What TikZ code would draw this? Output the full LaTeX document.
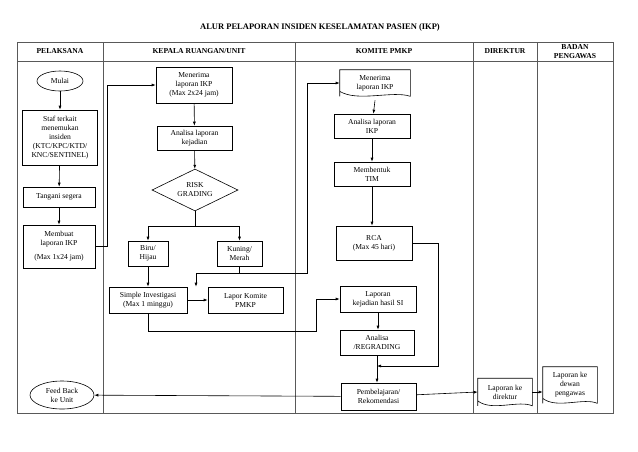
\documentclass[tikz,border=0pt]{standalone}
\usepackage{fontspec}
\setmainfont{Liberation Serif}
\usetikzlibrary{shapes.geometric,arrows.meta,calc}
\newcommand{\docshp}[1]{\draw[semithick] (#1.south west) -- (#1.north west) -- (#1.north east) -- (#1.south east) .. controls ($(#1.south east)!0.5!(#1.south)+(0,-6)$) and ($(#1.south)!0.5!(#1.south west)+(0,6)$) .. ($(#1.south west)+(0,-5)$) -- (#1.south west);}
\begin{document}
\begin{tikzpicture}[x=1pt,y=-1pt, semithick,
  every node/.style={font=\fontsize{7.6}{9}\selectfont, align=center, inner sep=1pt},
  box/.style={draw, minimum width=#1, minimum height=24},
  hd/.style={font=\fontsize{7.6}{8.5}\selectfont\bfseries},
  ar/.style={-{Latex[length=4pt,width=3pt]}}]
\useasboundingbox (0,0) rectangle (638,451);
% table
\draw[gray!70!black] (17,42) rectangle (613,413);
\draw[gray!70!black] (17,61) -- (613,61);
\foreach \x in {103,295,473,537} \draw[gray!70!black] (\x,42) -- (\x,413);
\node[font=\fontsize{8.5}{10}\selectfont\bfseries] (title) at (320,27) {ALUR PELAPORAN INSIDEN KESELAMATAN PASIEN (IKP)};
\node[hd] (h1) at (60,51.5) {PELAKSANA};
\node[hd] (h2) at (199,51.5) {KEPALA RUANGAN/UNIT};
\node[hd] (h3) at (384,51.5) {KOMITE PMKP};
\node[hd] (h4) at (505,51.5) {DIREKTUR};
\node[hd] (h5) at (575,51.5) {BADAN\\PENGAWAS};
% pelaksana
\node[draw,ellipse,minimum width=46,minimum height=20] (mulai) at (60,81) {Mulai};
\node[box=75, minimum height=55] (staf) at (60,137.5) {Staf terkait\\menemukan\\insiden\\(KTC/KPC/KTD/\\KNC/SENTINEL)};
\node[box=72, minimum height=20] (tangani) at (59,197) {Tangani segera};
\node[box=72, minimum height=43] (buat) at (59,246.5) {Membuat\\laporan IKP\\[5pt](Max 1x24 jam)};
\node[draw,ellipse,minimum width=64,minimum height=28] (feed) at (62,395) {Feed Back\\ke Unit};
% kepala ruangan
\node[box=76, minimum height=36] (terima1) at (194,85) {Menerima\\laporan IKP\\(Max 2x24 jam)};
\node[box=75] (analisa1) at (194.5,138) {Analisa laporan\\kejadian};
\node[draw,diamond,aspect=2.05,minimum width=86,minimum height=42,inner sep=0] (risk) at (195,190) {RISK\\GRADING};
\node[box=40, minimum height=25] (biru) at (148,253.5) {Biru/\\Hijau};
\node[box=45, minimum height=25] (kuning) at (239.5,253.5) {Kuning/\\Merah};
\node[box=78, minimum height=26] (simple) at (148,300) {Simple Investigasi\\(Max 1 minggu)};
\node[box=75, minimum height=26] (lapor) at (245.5,300) {Lapor Komite\\PMKP};
% komite
\node[minimum width=70, minimum height=26] (terima2) at (375,83) {Menerima\\laporan IKP};
\docshp{terima2}
\node[box=76] (analisa2) at (372,126) {Analisa laporan\\IKP};
\node[box=76] (tim) at (372,174) {Membentuk\\TIM};
\node[box=76, minimum height=34] (rca) at (374,243) {RCA\\(Max 45 hari)};
\node[box=76, minimum height=26] (si) at (378,299) {Laporan\\kejadian hasil SI};
\node[box=74, minimum height=25] (regr) at (377,342.5) {Analisa\\/REGRADING};
\node[box=75, minimum height=27] (pemb) at (378.5,396.5) {Pembelajaran/\\Rekomendasi};
% direktur / badan
\node[minimum width=54, minimum height=27] (dir) at (505,392) {Laporan ke\\direktur};
\docshp{dir}
\node[minimum width=54, minimum height=36] (dewan) at (570,385) {Laporan ke\\dewan\\pengawas};
\docshp{dewan}
% connectors
\coordinate (c1) at (107,246.5);
\coordinate (rj) at (195,226);
\coordinate (kj) at (239.5,273);
\coordinate (kl) at (196,273);
\coordinate (kr) at (307,273);
\coordinate (s1) at (148,331);
\coordinate (s2) at (316,331);
\coordinate (r1) at (438,243);
\coordinate (r2) at (438,366);
\coordinate (r3) at (377,366);
\draw[ar] (mulai) -- (staf);
\draw[ar] (staf) -- (tangani);
\draw[ar] (tangani) -- (buat);
\draw[ar] (buat.east) -- (c1) |- (terima1.west);
\draw[ar] (terima1) -- (analisa1);
\draw[ar] (analisa1) -- (risk);
\draw (risk.south) -- (rj);
\draw[ar] (rj) -| (biru.north);
\draw[ar] (rj) -| (kuning.north);
\draw[ar] (biru) -- (simple);
\draw (kuning.south) -- (kj) -- (kl);
\draw[ar] (kl) -- (kl |- lapor.north);
\draw[ar] (kj) -- (kr) |- (terima2.west);
\draw[ar] (simple) -- (lapor);
\draw[ar] (simple.south) -- (s1) -- (s2) |- (si.west);
\draw[ar] ($(terima2.south)+(0,4)$) -- (analisa2);
\draw[ar] (analisa2) -- (tim);
\draw[ar] (tim) -- (rca.north -| tim);
\draw[ar] (si) -- (si |- regr.north);
\draw[ar] (regr) -- (regr |- pemb.north);
\draw[ar] (rca.east) -- (r1) -- (r2) -- (r3);
\draw[ar] (pemb) -- (feed);
\draw[ar] (pemb) -- (dir.west);
\draw[ar] (dir.east) -- (dewan.west |- dir.east);
\end{tikzpicture}
\end{document}
